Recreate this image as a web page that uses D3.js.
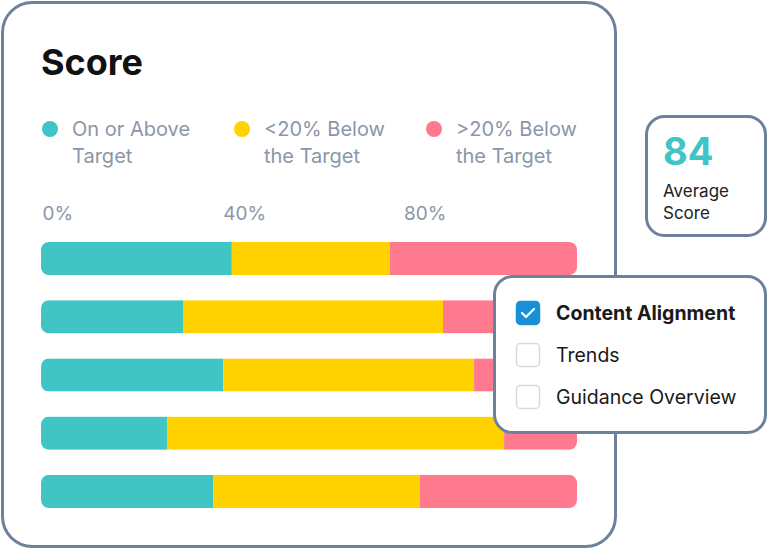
<!DOCTYPE html>
<html><head><meta charset="utf-8">
<script src="https://cdn.jsdelivr.net/npm/d3@7"></script>
<style>body{margin:0;background:#fff;font-family:Inter,"Noto Sans",sans-serif;}</style>
</head><body><div id="chart"></div>
<script>
// series values (percent of each row)
const rows = ['r1', 'r2', 'r3', 'r4', 'r5'];
const onTarget = [35.6, 26.5, 34.0, 23.5, 32.1];
const below20 = [29.5, 48.5, 46.8, 62.9, 38.6];
const above20 = [34.9, 25.0, 19.2, 13.6, 29.3];
const seriesNames = ['On or Above|Target', '<20% Below|the Target', '>20% Below|the Target'];
const colors = ['#40c4c4', '#ffd200', '#ff7a8e'];
const tickValues = [0, 40, 80];
const options = ['Content Alignment', 'Trends', 'Guidance Overview'];
const averageScore = 84;

const W = 768, H = 549, border = '#6e819a';
const svg = d3.select('#chart').append('svg').attr('width', W).attr('height', H);

// main card
svg.append('rect').attr('x', 2.5).attr('y', 2.5).attr('width', 613).attr('height', 544)
    .attr('rx', 30).attr('fill', '#fff').attr('stroke', border).attr('stroke-width', 3);
svg.append('text').attr('x', 41).attr('y', 75).text('Score')
    .style('font-size', '36px').style('font-weight', 700).attr('fill', '#111');

// legend
const legendX = [50, 242, 434];
seriesNames.forEach((name, i) => {
    svg.append('circle').attr('cx', legendX[i]).attr('cy', 129).attr('r', 8).attr('fill', colors[i]);
    const t = svg.append('text').attr('x', legendX[i] + 22).attr('y', 136)
        .style('font-size', '20px').attr('fill', '#8a97a8');
    name.split('|').forEach((s, j) => t.append('tspan').attr('x', legendX[i] + 22).attr('dy', j ? 27 : 0).text(s));
});

// scales
const x = d3.scaleLinear().domain([0, 100]).range([41, 577]);
const xTick = d3.scaleLinear().domain([0, 100]).range([42, 494]);
const y = d3.scaleBand().domain(rows).range([242, 508]).paddingInner(0.43).paddingOuter(0);

svg.append('g').attr('transform', 'translate(0,223)')
    .call(d3.axisTop(xTick).tickValues(tickValues).tickFormat(d => d + '%').tickSize(0))
    .call(g => g.select('.domain').remove())
    .call(g => g.selectAll('text').attr('text-anchor', 'start').attr('dy', 0)
        .style('font-size', '19px').style('font-family', 'Inter,"Noto Sans",sans-serif').attr('fill', '#8a97a8'));

const data = rows.map((r, i) => ({ row: r, a: onTarget[i], b: below20[i], c: above20[i] }));
const stack = d3.stack().keys(['a', 'b', 'c'])(data);

const defs = svg.append('defs');
rows.forEach(r => {
    defs.append('clipPath').attr('id', 'clip-' + r).append('rect')
        .attr('x', x(0)).attr('y', y(r)).attr('width', x(100) - x(0))
        .attr('height', y.bandwidth()).attr('rx', 8);
});
stack.forEach((layer, k) => {
    svg.append('g').selectAll('rect').data(layer).join('rect')
        .attr('clip-path', d => `url(#clip-${d.data.row})`)
        .attr('x', d => x(d[0])).attr('width', d => x(d[1]) - x(d[0]))
        .attr('y', d => y(d.data.row)).attr('height', y.bandwidth())
        .attr('fill', colors[k]);
});

// average score card
svg.append('rect').attr('x', 646.5).attr('y', 116.5).attr('width', 119).attr('height', 119)
    .attr('rx', 18).attr('fill', '#fff').attr('stroke', border).attr('stroke-width', 3);
svg.append('text').attr('x', 663).attr('y', 165).text(averageScore)
    .style('font-size', '38px').style('font-weight', 700).attr('fill', '#40c4c4');
svg.append('text').attr('x', 663).attr('y', 197).text('Average').style('font-size', '17px').attr('fill', '#222');
svg.append('text').attr('x', 663).attr('y', 219).text('Score').style('font-size', '17px').attr('fill', '#222');

// options card
svg.append('rect').attr('x', 494.5).attr('y', 276.5).attr('width', 271).attr('height', 156)
    .attr('rx', 18).attr('fill', '#fff').attr('stroke', border).attr('stroke-width', 3);
options.forEach((o, i) => {
    const cy = 313 + i * 42;
    svg.append('rect').attr('x', 516.5).attr('y', cy - 11.5).attr('width', 23).attr('height', 23).attr('rx', 4)
        .attr('fill', i === 0 ? '#1a8fd6' : '#fff').attr('stroke', i === 0 ? '#1a8fd6' : '#d5dae1').attr('stroke-width', 1.5);
    if (i === 0) svg.append('path').attr('d', `M522,${cy} l4,4 l8,-8`).attr('fill', 'none')
        .attr('stroke', '#fff').attr('stroke-width', 2.2).attr('stroke-linecap', 'round').attr('stroke-linejoin', 'round');
    svg.append('text').attr('x', 556).attr('y', cy + 7).text(o)
        .style('font-size', '19.5px').style('font-weight', i === 0 ? 700 : 400).attr('fill', '#1a1a1a');
});
</script></body></html>
